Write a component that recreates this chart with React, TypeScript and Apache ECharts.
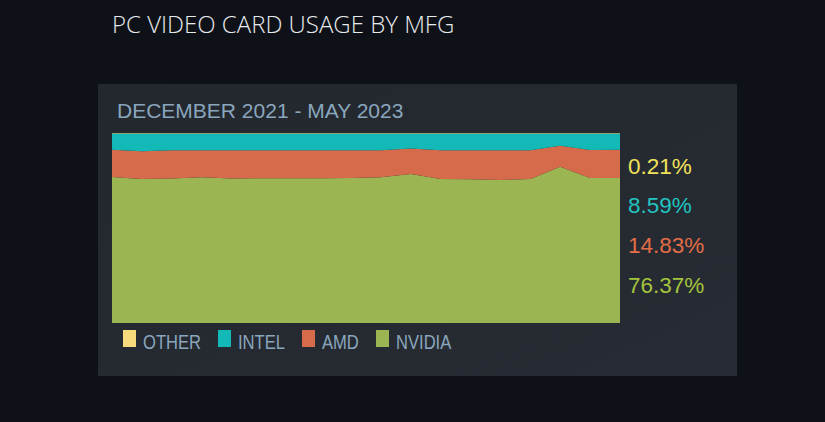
import { useEffect, useRef } from 'react'
import * as echarts from 'echarts'

const months = [
  'Dec 2021', 'Jan 2022', 'Feb 2022', 'Mar 2022', 'Apr 2022', 'May 2022',
  'Jun 2022', 'Jul 2022', 'Aug 2022', 'Sep 2022', 'Oct 2022', 'Nov 2022',
  'Dec 2022', 'Jan 2023', 'Feb 2023', 'Mar 2023', 'Apr 2023', 'May 2023',
]

const nvidia = [76.8, 75.8, 76.0, 76.7, 76.0, 76.2, 76.2, 76.2, 76.3, 76.7, 78.4, 75.8, 75.6, 75.3, 75.8, 82.3, 76.3, 76.37]
const amd = [14.4, 14.6, 14.9, 14.2, 14.9, 14.7, 14.7, 14.7, 14.6, 14.2, 13.5, 15.1, 15.3, 15.6, 15.1, 11.0, 14.8, 14.83]
const intel = [8.6, 9.4, 8.9, 8.9, 8.9, 8.9, 8.9, 8.9, 8.9, 8.9, 7.9, 8.9, 8.9, 8.9, 8.9, 6.5, 8.7, 8.59]
const other = [0.2, 0.2, 0.2, 0.2, 0.2, 0.2, 0.2, 0.2, 0.2, 0.2, 0.2, 0.2, 0.2, 0.2, 0.2, 0.2, 0.2, 0.21]

const legendOrder = ['OTHER', 'INTEL', 'AMD', 'NVIDIA']

const areaColors: Record<string, string> = {
  OTHER: '#f6da7c',
  INTEL: '#12b9b7',
  AMD: '#d66b4b',
  NVIDIA: '#9bb553',
}

const labelColors: Record<string, string> = {
  OTHER: '#f2e15a',
  INTEL: '#22c4c0',
  AMD: '#e36d45',
  NVIDIA: '#a4c43c',
}

// legend icon left edges; the legend font is a narrow one, so text is squeezed a bit
const legendX = [123, 218, 302, 376]

export default function App() {
  const containerRef = useRef<HTMLDivElement>(null)

  useEffect(() => {
    if (!containerRef.current) return

    const chart = echarts.init(containerRef.current, null, { renderer: 'svg' })

    const seriesData: Record<string, number[]> = {
      NVIDIA: nvidia,
      AMD: amd,
      INTEL: intel,
      OTHER: other,
    }

    const last = (name: string) => seriesData[name][seriesData[name].length - 1]

    const legendItems = legendOrder.flatMap((name, i) => [
      {
        type: 'rect',
        silent: true,
        shape: { x: legendX[i], y: 330, width: 13, height: 17 },
        style: { fill: areaColors[name] },
      },
      {
        type: 'text',
        silent: true,
        x: legendX[i] + 20,
        y: 342,
        scaleX: 0.79,
        style: {
          text: name,
          fill: '#8aa6bd',
          font: '21px "Liberation Sans", Arial, sans-serif',
          verticalAlign: 'middle',
        },
      },
    ])

    const option = {
      animation: false,
      backgroundColor: '#0e1117',
      grid: { left: 112, right: 205, top: 133, bottom: 99 },
      xAxis: {
        type: 'category',
        data: months,
        boundaryGap: false,
        show: false,
      },
      yAxis: { type: 'value', min: 0, max: 100, show: false },
      graphic: [
        {
          type: 'rect',
          z: -10,
          silent: true,
          shape: { x: 98, y: 84, width: 639, height: 292 },
          style: {
            fill: new echarts.graphic.LinearGradient(0, 0, 1, 1, [
              { offset: 0, color: '#23272e' },
              { offset: 1, color: '#272c34' },
            ]),
          },
        },
        {
          type: 'text',
          left: 112,
          top: 11,
          style: {
            text: 'PC VIDEO CARD USAGE BY MFG',
            fill: '#e8ebee',
            font: '300 24px "Open Sans", sans-serif',
          },
        },
        {
          type: 'text',
          left: 117,
          top: 100,
          style: {
            text: 'DECEMBER 2021 - MAY 2023',
            fill: '#8aa6bd',
            font: '21px "Liberation Sans", Arial, sans-serif',
          },
        },
        ...legendOrder.map((name, i) => ({
          type: 'text',
          x: 628,
          y: 166 + i * 39.7,
          style: {
            text: `${last(name).toFixed(2)}%`,
            fill: labelColors[name],
            font: '22.5px "Liberation Sans", Arial, sans-serif',
            verticalAlign: 'middle',
          },
        })),
        ...legendItems,
      ],
      series: ['NVIDIA', 'AMD', 'INTEL', 'OTHER'].map((name) => ({
        name,
        type: 'line',
        stack: 'total',
        data: seriesData[name],
        symbol: 'none',
        lineStyle: { width: 0 },
        areaStyle: { color: areaColors[name], opacity: 1 },
        itemStyle: { color: areaColors[name] },
      })),
    }

    chart.setOption(option)

    return () => {
      chart.dispose()
    }
  }, [])

  return (
    <div
      ref={containerRef}
      style={{ position: 'absolute', left: 0, top: 0, width: '825px', height: '422px' }}
    />
  )
}
